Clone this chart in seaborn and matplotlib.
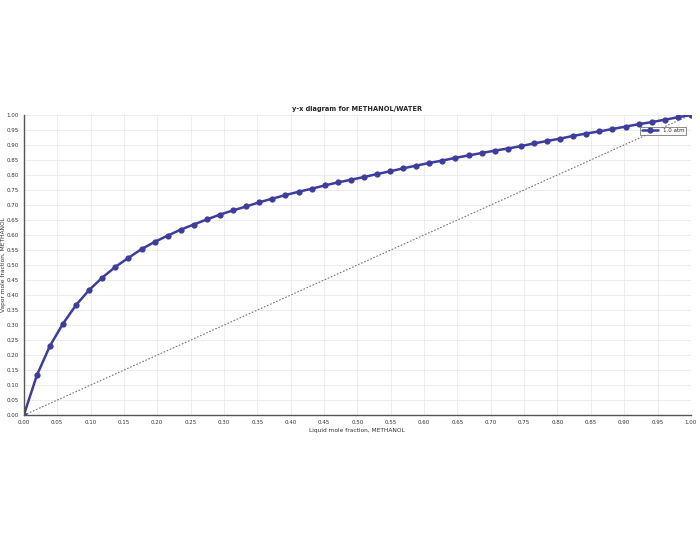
import numpy as np
import pandas as pd
import matplotlib
matplotlib.use("Agg")
import matplotlib.pyplot as plt
import seaborn as sns

# liquid mole fraction methanol (52 points, evenly spaced)
x_liquid = [0.0, 0.0196, 0.0392, 0.0588, 0.0784, 0.098, 0.1176, 0.1373, 0.1569, 0.1765,
            0.1961, 0.2157, 0.2353, 0.2549, 0.2745, 0.2941, 0.3137, 0.3333, 0.3529, 0.3725,
            0.3922, 0.4118, 0.4314, 0.451, 0.4706, 0.4902, 0.5098, 0.5294, 0.549, 0.5686,
            0.5882, 0.6078, 0.6275, 0.6471, 0.6667, 0.6863, 0.7059, 0.7255, 0.7451, 0.7647,
            0.7843, 0.8039, 0.8235, 0.8431, 0.8627, 0.8824, 0.902, 0.9216, 0.9412, 0.9608,
            0.9804, 1.0]
# vapor mole fraction methanol at 1.0 atm
y_vapor = [0.000, 0.133, 0.231, 0.305, 0.367, 0.417, 0.458, 0.494, 0.524, 0.553,
           0.577, 0.598, 0.618, 0.635, 0.652, 0.668, 0.682, 0.695, 0.709, 0.721,
           0.733, 0.744, 0.754, 0.765, 0.775, 0.784, 0.793, 0.803, 0.812, 0.822,
           0.831, 0.840, 0.848, 0.857, 0.865, 0.873, 0.881, 0.888, 0.896, 0.905,
           0.913, 0.921, 0.930, 0.938, 0.945, 0.953, 0.961, 0.969, 0.976, 0.984,
           0.992, 1.000]
diag = [0.0, 1.0]
ticks = [round(0.05 * i, 2) for i in range(21)]
tick_labels = [f"{t:.2f}" for t in ticks]

df = pd.DataFrame({"x": x_liquid, "y": y_vapor, "P": "1.0 atm"})

sns.set_style("whitegrid")
plt.rcParams["font.family"] = ["DejaVu Sans"]

fig = plt.figure(figsize=(7, 5.42), dpi=100)
ax = fig.add_axes([0.034, 0.234, 0.953, 0.554])

ax.plot(diag, diag, linestyle=(0, (1.5, 1.5)), color="#777777", linewidth=0.8)
sns.lineplot(data=df, x="x", y="y", hue="P", palette=["#3d3d9e"], marker="o",
             markersize=4.5, linewidth=1.8, markeredgewidth=0, ax=ax)

ax.set_xlim(0, 1)
ax.set_ylim(0, 1)
ax.set_xticks(ticks)
ax.set_xticklabels(tick_labels, fontsize=4)
ax.set_yticks(ticks)
ax.set_yticklabels(tick_labels, fontsize=4)
ax.tick_params(axis="both", length=2, width=0.5, pad=1.5, colors="#333333", direction="out")
ax.grid(color="#e6e6e6", linewidth=0.5)
for side in ["top", "right"]:
    ax.spines[side].set_visible(False)
for side in ["left", "bottom"]:
    ax.spines[side].set_color("#555555")
    ax.spines[side].set_linewidth(1.0)

ax.set_xlabel("Liquid mole fraction, METHANOL", fontsize=4.2, labelpad=2, color="#333333")
ax.set_ylabel("Vapor mole fraction, METHANOL", fontsize=4.2, color="#333333")
ax.yaxis.set_label_coords(-0.026, 0.5)
ax.set_title("y-x diagram for METHANOL/WATER", fontsize=4.8, fontweight="bold", pad=3)

leg = ax.legend(loc="upper right", bbox_to_anchor=(0.997, 0.97), fontsize=4, frameon=True,
                fancybox=False, edgecolor="#555555", handlelength=3, borderpad=0.3,
                handletextpad=0.8, title=None)
leg.get_frame().set_linewidth(0.6)

fig.savefig("out.png", dpi=100, facecolor="white")
